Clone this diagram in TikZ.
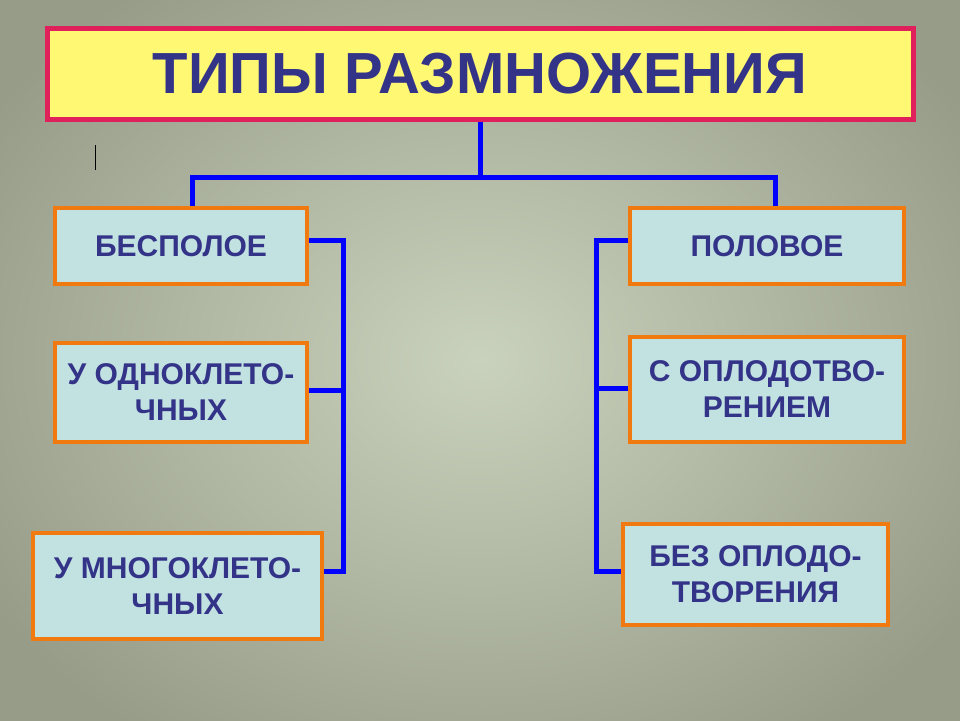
\documentclass[tikz,border=0pt]{standalone}
\usepackage{fontspec}
\setmainfont{Liberation Sans}
\definecolor{bgc}{HTML}{C9D2BC}
\definecolor{bge}{HTML}{979C88}
\definecolor{tcol}{HTML}{333388}
\definecolor{ocol}{HTML}{F07A10}
\definecolor{fcol}{HTML}{C2E2E2}
\definecolor{rcol}{HTML}{E0205A}
\begin{document}
\begin{tikzpicture}[x=1pt,y=-1pt,
  box/.style={draw=ocol,line width=4.5pt,fill=fcol,text=tcol,font=\bfseries\fontsize{30}{36}\selectfont,align=center,inner sep=0pt},
  conn/.style={draw=blue,line width=5pt}]
\useasboundingbox (0,0) rectangle (960,720);
\shade[inner color=bgc,outer color=bge] (-100,-100) rectangle (1060,820);
\node[draw=rcol,line width=5pt,fill=yellow!55,text=tcol,font=\bfseries\fontsize{58}{64}\selectfont,minimum width=866,minimum height=91,inner sep=0pt] (t) at (480,73.5) {ТИПЫ РАЗМНОЖЕНИЯ};
\node[box,minimum width=252,minimum height=76] (l1) at (181,246) {БЕСПОЛОЕ};
\node[box,minimum width=252,minimum height=99] (l2) at (181,392.5) {У ОДНОКЛЕТО-\\ЧНЫХ};
\node[box,minimum width=289,minimum height=106] (l3) at (177.5,586) {У МНОГОКЛЕТО-\\ЧНЫХ};
\node[box,minimum width=274,minimum height=76] (r1) at (767,246) {ПОЛОВОЕ};
\node[box,minimum width=274,minimum height=105] (r2) at (767,389.5) {С ОПЛОДОТВО-\\РЕНИЕМ};
\node[box,minimum width=265,minimum height=101] (r3) at (755.5,574.5) {БЕЗ ОПЛОДО-\\ТВОРЕНИЯ};
\coordinate (j) at (480,177);
\draw[conn] (t.south) -- (j);
\draw[conn] (192,177) -- (775,177);
\draw[conn] (192,175) -- (l1.north -| 192,0);
\draw[conn] (775,175) -- (r1.north -| 775,0);
\draw[conn] (l1.east |- 0,240) -- (343,240) -- (343,571) -- (l3.east |- 0,571);
\draw[conn] (343,390) -- (l2.east |- 0,390);
\draw[conn] (r1.west |- 0,240) -- (596,240) -- (596,571) -- (r3.west |- 0,571);
\draw[conn] (596,388) -- (r2.west |- 0,388);
\draw[black,line width=0.8pt] (95,145) -- (95,170);
\end{tikzpicture}
\end{document}
